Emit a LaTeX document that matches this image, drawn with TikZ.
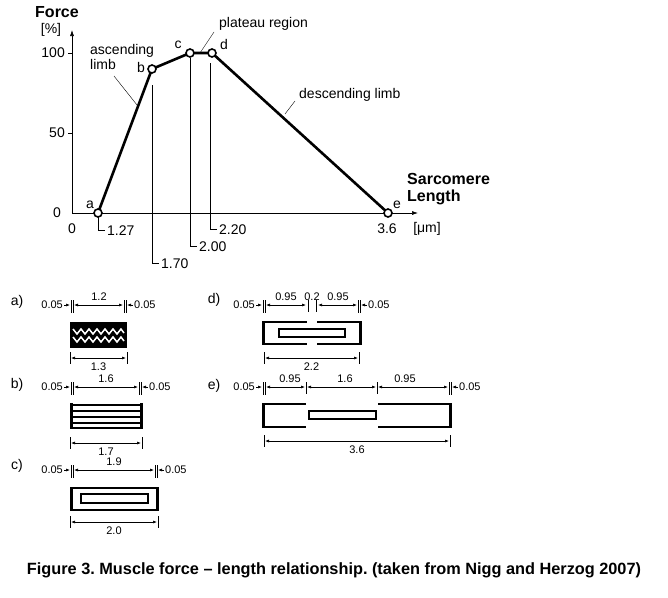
\documentclass[tikz,border=0pt]{standalone}
\usepackage{fontspec}
\setmainfont{Liberation Sans}
\usetikzlibrary{arrows.meta,decorations.pathmorphing}
\begin{document}
\begin{tikzpicture}[x=1pt,y=-1pt,
  lbl/.style={font=\fontsize{14}{15}\selectfont,inner sep=1pt},
  sm/.style={font=\fontsize{11}{12}\selectfont,inner sep=1pt},
  ax/.style={line width=0.6pt},
  curve/.style={line width=2.6pt,line join=round},
  pt/.style={circle,draw,fill=white,line width=1.6pt,inner sep=0pt,minimum size=8pt},
  guide/.style={line width=0.4pt},
  dim/.style={line width=0.6pt,{Latex[length=4pt,width=3pt]}-{Latex[length=4pt,width=3pt]}},
  thick2/.style={line width=2pt},
  bar/.style={line width=3pt}]
\useasboundingbox (0,0) rectangle (668,597);
% axes
\draw[ax,-{Latex[length=6pt,width=4pt]}] (72,213) -- (72,30);
\draw[ax,-{Latex[length=6pt,width=4pt]}] (72,213) -- (418,213);
\foreach \y in {53,133} \draw[ax] (68,\y) -- (72,\y);
\node[lbl,font=\fontsize{16}{17}\selectfont\bfseries] (force) at (57,12) {Force};
\node[lbl] (pct) at (51,30) {[\%]};
\node[lbl,anchor=east] (t100) at (66,53) {100};
\node[lbl,anchor=east] (t50) at (66,133) {50};
\node[lbl,anchor=east] (t0) at (62,213) {0};
\node[lbl] (x0) at (72,229) {0};
\node[lbl] (x36) at (387,229) {3.6};
\node[lbl] (xum) at (427,229) {[μm]};
\node[lbl,anchor=west,align=left,font=\fontsize{16}{17}\selectfont\bfseries] (sl) at (406,189) {Sarcomere\\Length};
% guides
\draw[guide] (98,213) |- (105,230); \node[lbl,anchor=west] (l127) at (106,231) {1.27};
\draw[guide] (152,85) |- (159,263); \node[lbl,anchor=west] (l170) at (160,264) {1.70};
\draw[guide] (190,58) |- (197,246); \node[lbl,anchor=west] (l200) at (198,247) {2.00};
\draw[guide] (210,63) |- (217,229); \node[lbl,anchor=west] (l220) at (218,230) {2.20};
% curve
\coordinate (a) at (98,213); \coordinate (b) at (152,69); \coordinate (c) at (190,53);
\coordinate (d) at (212,53); \coordinate (e) at (388,213);
\draw[curve] (a) -- (b) -- (c) -- (d) -- (e);
\foreach \p in {a,b,c,d,e} \node[pt] (n\p) at (\p) {};
\node[lbl] (la) at (90,205) {a};
\node[lbl] (lb) at (141,67) {b};
\node[lbl] (lc) at (178,45) {c};
\node[lbl] (ld) at (224,44) {d};
\node[lbl] (le) at (397,205) {e};
\node[lbl,align=left,anchor=west] (asc) at (89,57) {ascending\\limb};
\draw[guide] (114,76) -- (137,105);
\node[lbl,anchor=west] (plat) at (218,24) {plateau region};
\draw[guide] (214,32) -- (200,53);
\node[lbl,anchor=west] (desc) at (298,95) {descending limb};
\draw[guide] (295,101) -- (285,114);
% ----- sarcomeres
\newcommand{\topdims}[4]{%
  \draw[line width=0.6pt] (#1-1.2,#3-5) -- (#1-1.2,#3+8) (#1+1.2,#3-5) -- (#1+1.2,#3+8);
  \draw[line width=0.6pt] (#2-1.2,#3-5) -- (#2-1.2,#3+8) (#2+1.2,#3-5) -- (#2+1.2,#3+8);
  \node[sm,anchor=east] at (#1-8,#3) {0.05};
  \draw[-{Latex[length=4pt,width=3pt]},line width=0.6pt] (#1-8,#3) -- (#1-2,#3);
  \node[sm,anchor=west] at (#2+8,#3) {0.05};
  \draw[-{Latex[length=4pt,width=3pt]},line width=0.6pt] (#2+8,#3) -- (#2+2,#3);}
\newcommand{\botdim}[4]{%
  \draw[line width=0.6pt] (#1,#3-6) -- (#1,#3+6) (#2,#3-6) -- (#2,#3+6);
  \draw[dim] (#1+1,#3) -- (#2-1,#3);
  \node[sm] at ({(#1+#2)/2},#3+9) {#4};}
% a
\node[lbl] (la2) at (17,302) {a)};
\topdims{72}{125}{305}{}
\draw[dim] (74,305) -- (123,305); \node[sm] at (99,297) {1.2};
\fill[black] (70,322) rectangle (127,348);
\draw[white,line width=1.5pt] (73,329) -- (77,334)--(81,329)--(85,334)--(89,329)--(93,334)--(97,329)--(101,334)--(105,329)--(109,334)--(113,329)--(117,334)--(121,329)--(124,333);
\draw[white,line width=1.5pt] (73,337) -- (77,342)--(81,337)--(85,342)--(89,337)--(93,342)--(97,337)--(101,342)--(105,337)--(109,342)--(113,337)--(117,342)--(121,337)--(124,341);
\botdim{70}{127}{358}{1.3}
% b
\node[lbl] (lb2) at (17,385) {b)};
\topdims{72}{140}{387}{}
\draw[dim] (74,387) -- (138,387); \node[sm] at (106,379) {1.6};
\draw[bar] (71,403) -- (71,429) (141,403) -- (141,429);
\foreach \yy in {404.5,410.5,416.5,422.5,428} \draw[thick2] (71,\yy) -- (141,\yy);
\botdim{70}{142}{443}{1.7}
% c
\node[lbl] (lc2) at (17,466) {c)};
\topdims{72}{156}{470}{}
\draw[dim] (74,470) -- (154,470); \node[sm] at (114,462) {1.9};
\draw[thick2] (71,488) rectangle (157,510);
\draw[bar] (71,487) -- (71,511) (157,487) -- (157,511);
\draw[thick2] (81,494) rectangle (148,503);
\botdim{70}{158}{522}{2.0}
% d
\node[lbl] (ld2) at (214,300) {d)};
\topdims{264}{359}{305}{}
\draw[line width=0.6pt] (308,300) -- (308,312) (316,300) -- (316,312);
\draw[dim] (266,305) -- (306,305); \draw[dim] (318,305) -- (357,305);
\node[sm] at (286,297) {0.95}; \node[sm] at (312,297) {0.2}; \node[sm] at (338,297) {0.95};
\draw[bar] (263,321) -- (263,345) (360,321) -- (360,345);
\draw[thick2] (263,322) -- (307,322) (317,322) -- (360,322) (263,344) -- (307,344) (317,344) -- (360,344);
\draw[thick2] (279,329) rectangle (345,337);
\botdim{264}{359}{358}{2.2}
% e
\node[lbl] (le2) at (214,386) {e)};
\topdims{264}{450}{387}{}
\draw[line width=0.6pt] (306,382) -- (306,394) (377,382) -- (377,394);
\draw[dim] (266,387) -- (305,387); \draw[dim] (307,387) -- (376,387); \draw[dim] (378,387) -- (448,387);
\node[sm] at (290,379) {0.95}; \node[sm] at (345,379) {1.6}; \node[sm] at (405,379) {0.95};
\draw[bar] (263,403) -- (263,428) (450,403) -- (450,428);
\draw[thick2] (263,404) -- (306,404) (263,427) -- (306,427) (378,404) -- (450,404) (378,427) -- (450,427);
\draw[thick2] (309,411) rectangle (376,419);
\botdim{264}{450}{441}{3.6}
% caption
\node[font=\fontsize{16.3}{18}\selectfont\bfseries] (cap) at (334,570) {\frenchspacing Figure 3. Muscle force – length relationship. (taken from Nigg and Herzog 2007)};
\end{tikzpicture}
\end{document}
